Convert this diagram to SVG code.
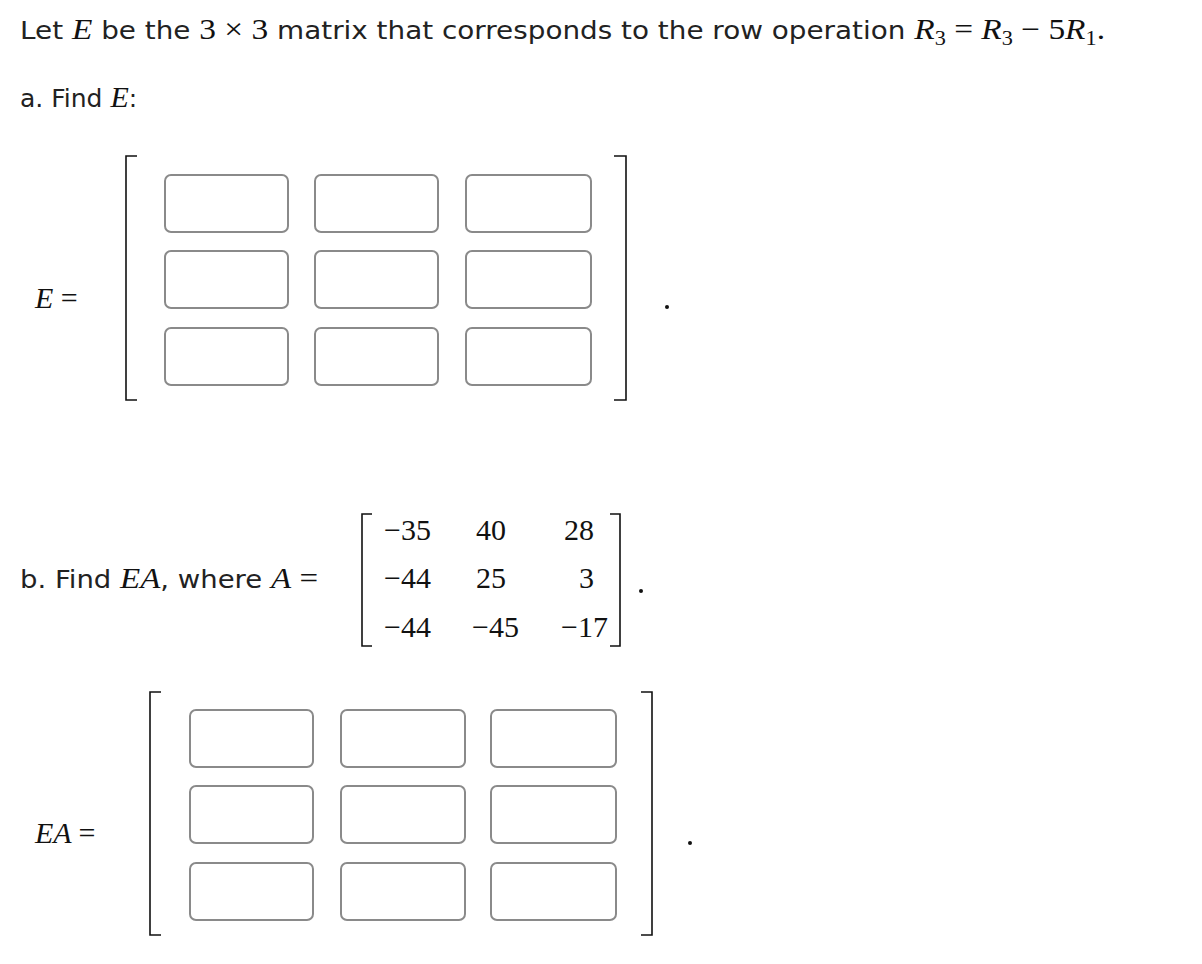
<svg xmlns="http://www.w3.org/2000/svg" width="1202" height="964" viewBox="0 0 1202 964">
<style>
.t{font-family:"DejaVu Sans",sans-serif;font-size:25px;fill:#222}
.m{font-family:"Liberation Serif",serif;font-size:30px;fill:#111}
.mi{font-family:"Liberation Serif",serif;font-size:30px;font-style:italic;fill:#111}
.s{font-family:"Liberation Serif",serif;font-size:20px;fill:#111}
.b{fill:#fff;stroke:#8a8a8a;stroke-width:2}
.br{fill:none;stroke:#111;stroke-width:1.6}
</style>
<rect width="1202" height="964" fill="#fff"/>
<text x="20" y="39" class="t" textLength="1085" lengthAdjust="spacingAndGlyphs">Let <tspan class="mi">E</tspan> be the <tspan class="m">3 × 3</tspan> matrix that corresponds to the row operation <tspan class="mi">R</tspan><tspan class="s" dy="6">3</tspan><tspan class="m" dy="-6"> = </tspan><tspan class="mi">R</tspan><tspan class="s" dy="6">3</tspan><tspan class="m" dy="-6"> − 5</tspan><tspan class="mi">R</tspan><tspan class="s" dy="6">1</tspan><tspan class="m" dy="-6">.</tspan></text>
<text x="20" y="107" class="t">a. Find <tspan class="mi">E</tspan>:</text>
<text x="35" y="308" class="mi">E <tspan class="m" font-style="normal">=</tspan></text>
<g id="matE">
<path class="br" d="M137,156 H126 V400 H137 M614,156 H626 V400 H614"/>
<rect class="b" x="165" y="175" width="123" height="57" rx="6"/><rect class="b" x="315" y="175" width="123" height="57" rx="6"/><rect class="b" x="466" y="175" width="125" height="57" rx="6"/>
<rect class="b" x="165" y="251" width="123" height="57" rx="6"/><rect class="b" x="315" y="251" width="123" height="57" rx="6"/><rect class="b" x="466" y="251" width="125" height="57" rx="6"/>
<rect class="b" x="165" y="328" width="123" height="57" rx="6"/><rect class="b" x="315" y="328" width="123" height="57" rx="6"/><rect class="b" x="466" y="328" width="125" height="57" rx="6"/>
<circle cx="667" cy="307" r="2" fill="#111"/>
</g>
<text x="20" y="588" class="t" textLength="298" lengthAdjust="spacingAndGlyphs">b. Find <tspan class="mi">EA</tspan>, where <tspan class="mi">A</tspan><tspan class="m"> =</tspan></text>
<g id="matA">
<path class="br" stroke-width="2.2" d="M372,514 H362 V646 H372 M610,514 H620 V646 H610"/>
<g class="m" text-anchor="end">
<text x="431" y="540">−35</text><text x="506" y="540">40</text><text x="594" y="540">28</text>
<text x="431" y="588">−44</text><text x="506" y="588">25</text><text x="594" y="588">3</text>
<text x="431" y="637">−44</text><text x="519" y="637">−45</text><text x="608" y="637">−17</text>
</g>
<circle cx="641" cy="591" r="2" fill="#111"/>
</g>
<text x="35" y="843" class="mi">EA <tspan class="m" font-style="normal">=</tspan></text>
<g id="matEA">
<path class="br" d="M161,692 H150 V935 H161 M641,692 H652 V935 H641"/>
<rect class="b" x="190" y="710" width="123" height="57" rx="6"/><rect class="b" x="341" y="710" width="124" height="57" rx="6"/><rect class="b" x="491" y="710" width="125" height="57" rx="6"/>
<rect class="b" x="190" y="786" width="123" height="57" rx="6"/><rect class="b" x="341" y="786" width="124" height="57" rx="6"/><rect class="b" x="491" y="786" width="125" height="57" rx="6"/>
<rect class="b" x="190" y="863" width="123" height="57" rx="6"/><rect class="b" x="341" y="863" width="124" height="57" rx="6"/><rect class="b" x="491" y="863" width="125" height="57" rx="6"/>
<circle cx="690" cy="843" r="2" fill="#111"/>
</g>
</svg>
